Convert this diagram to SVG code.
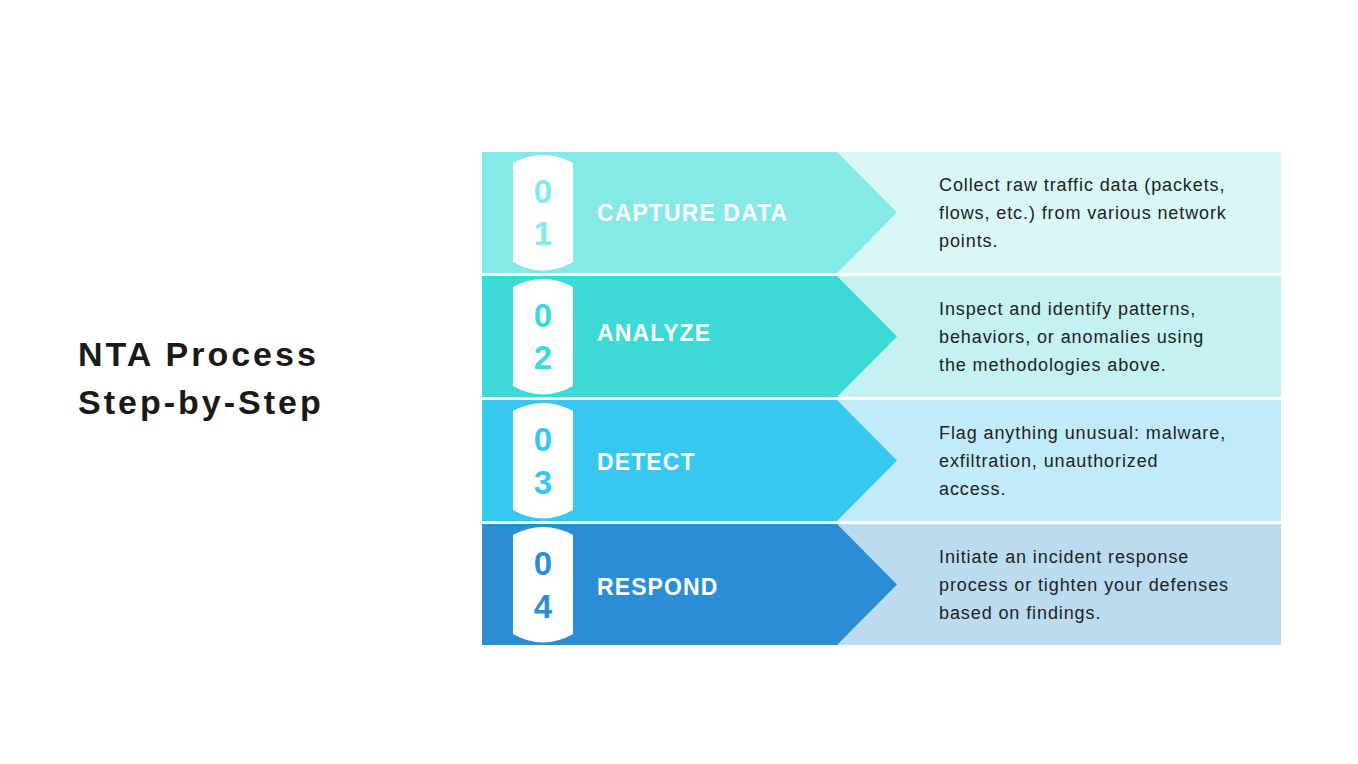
<svg xmlns="http://www.w3.org/2000/svg" width="1358" height="764" viewBox="0 0 1358 764">
<style>
.title{font-family:"Liberation Sans",Arial,sans-serif;font-weight:bold;font-size:34px;letter-spacing:3px;fill:#1a1a1a}
.step{font-family:"Liberation Sans",Arial,sans-serif;font-weight:bold;font-size:23px;letter-spacing:1.1px;fill:#ffffff}
.num{font-family:"Liberation Sans",Arial,sans-serif;font-weight:bold;font-size:33px;text-anchor:middle}
.desc{font-family:"Liberation Sans",Arial,sans-serif;font-size:18px;letter-spacing:0.9px;fill:#222222}
.badge{fill:#ffffff}
</style>
<defs>
<path id="badge" d="M513,11 Q543,-5 573,11 L573,110 Q543,127 513,110 Z"/>
</defs>
<rect width="1358" height="764" fill="#ffffff"/>
<g id="title">
<text class="title" x="78" y="366">NTA Process</text>
<text class="title" x="78" y="414">Step-by-Step</text>
</g>
<g id="step1" transform="translate(0,152)">
<rect x="837" y="0" width="444" height="121" fill="#d9f7f7"/>
<path d="M482,0 L837,0 L897,60.5 L837,121 L482,121 Z" fill="#85e9e7"/>
<use href="#badge" class="badge"/>
<text class="num" x="543" y="51" fill="#85e9e7">0</text>
<text class="num" x="543" y="93" fill="#85e9e7">1</text>
<text class="step" x="597" y="69">CAPTURE DATA</text>
<text class="desc" x="939" y="39">Collect raw traffic data (packets,</text>
<text class="desc" x="939" y="67">flows, etc.) from various network</text>
<text class="desc" x="939" y="95">points.</text>
</g>
<g id="step2" transform="translate(0,276)">
<rect x="837" y="0" width="444" height="121" fill="#c3f2f0"/>
<path d="M482,0 L837,0 L897,60.5 L837,121 L482,121 Z" fill="#3dd9d6"/>
<use href="#badge" class="badge"/>
<text class="num" x="543" y="51" fill="#3dd9d6">0</text>
<text class="num" x="543" y="93" fill="#3dd9d6">2</text>
<text class="step" x="597" y="65">ANALYZE</text>
<text class="desc" x="939" y="39">Inspect and identify patterns,</text>
<text class="desc" x="939" y="67">behaviors, or anomalies using</text>
<text class="desc" x="939" y="95">the methodologies above.</text>
</g>
<g id="step3" transform="translate(0,400)">
<rect x="837" y="0" width="444" height="121" fill="#c1ebf8"/>
<path d="M482,0 L837,0 L897,60.5 L837,121 L482,121 Z" fill="#37c8ef"/>
<use href="#badge" class="badge"/>
<text class="num" x="543" y="51" fill="#37c8ef">0</text>
<text class="num" x="543" y="94" fill="#37c8ef">3</text>
<text class="step" x="597" y="70">DETECT</text>
<text class="desc" x="939" y="39">Flag anything unusual: malware,</text>
<text class="desc" x="939" y="67">exfiltration, unauthorized</text>
<text class="desc" x="939" y="95">access.</text>
</g>
<g id="step4" transform="translate(0,524)">
<rect x="837" y="0" width="444" height="121" fill="#bbdbf0"/>
<path d="M482,0 L837,0 L897,60.5 L837,121 L482,121 Z" fill="#2b8ed4"/>
<use href="#badge" class="badge"/>
<text class="num" x="543" y="51" fill="#2b8ed4">0</text>
<text class="num" x="543" y="94" fill="#2b8ed4">4</text>
<text class="step" x="597" y="71">RESPOND</text>
<text class="desc" x="939" y="39">Initiate an incident response</text>
<text class="desc" x="939" y="67">process or tighten your defenses</text>
<text class="desc" x="939" y="95">based on findings.</text>
</g>
<g id="connectors"></g>
</svg>
